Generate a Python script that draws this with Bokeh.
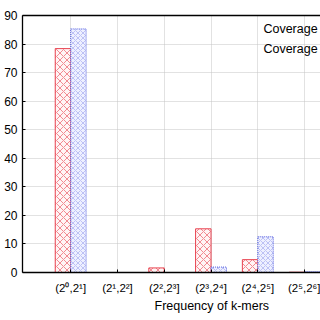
from bokeh.plotting import figure
from bokeh.models import Range1d, LinearAxis, FixedTicker, Title
from bokeh.core.properties import value
from bokeh.embed import file_html
from bokeh.resources import INLINE

categories = ["(2\u2070,2\u00b9]", "(2\u00b9,2\u00b2]", "(2\u00b2,2\u00b3]",
              "(2\u00b3,2\u2074]", "(2\u2074,2\u2075]", "(2\u2075,2\u2076]"]
series_a = [78.4, 0.0, 1.6, 15.3, 4.5, 0.1]
series_b = [85.3, 0.0, 0.0, 1.9, 12.5, 0.3]
legend_labels = ["Coverage", "Coverage"]

xs = list(range(len(categories)))
FONT = "Liberation Sans"

p = figure(width=320, height=320, output_backend="svg", toolbar_location=None,
           x_range=Range1d(-1.03, 5.34), y_range=Range1d(0, 90),
           min_border_left=22, min_border_right=0, min_border_top=15, min_border_bottom=48)
p.outline_line_color = None
p.background_fill_color = "white"

# bars
p.vbar(x=[x - 0.165 for x in xs], top=series_a, width=0.33,
       fill_color="#fff4f5", line_color="#e8424f", line_width=1,
       hatch_pattern="diagonal_cross", hatch_color="#e8424f", hatch_scale=7,
       hatch_weight=0.8, hatch_alpha=0.75)
p.vbar(x=[x + 0.165 for x in xs], top=series_b, width=0.33,
       fill_color="#eef0ff", line_color="#5560e0", line_width=1, line_dash="1 1",
       hatch_pattern="diagonal_cross", hatch_color="#5560e0", hatch_scale=5,
       hatch_weight=0.6, hatch_alpha=0.55)

# axes
p.xaxis.ticker = FixedTicker(ticks=xs)
p.xaxis.major_label_overrides = {i: c for i, c in enumerate(categories)}
p.yaxis.ticker = FixedTicker(ticks=list(range(0, 91, 10)))
for ax in (p.xaxis[0], p.yaxis[0]):
    ax.axis_line_color = "black"
    ax.axis_line_width = 1.3
    ax.major_tick_in = 3
    ax.major_tick_out = 0
    ax.minor_tick_line_color = None
    ax.major_label_text_font = FONT
    ax.major_label_text_color = "black"
p.yaxis.major_label_text_font_size = "12px"
p.xaxis.major_label_text_font_size = "11.5px"
p.xaxis.major_label_standoff = 9
p.yaxis.major_label_standoff = 5

top_axis = LinearAxis(ticker=FixedTicker(ticks=[]), major_label_text_font_size="0px",
                      axis_line_color="black", axis_line_width=1.3,
                      major_tick_line_color=None, minor_tick_line_color=None)
p.add_layout(top_axis, "above")

p.xgrid.ticker = FixedTicker(ticks=xs)
for g in (p.xgrid[0], p.ygrid[0]):
    g.grid_line_color = "#c4c4c4"
    g.grid_line_dash = "1 1"
    g.grid_line_width = 1

p.text(x=[4.12, 4.12], y=[85.1, 78.4], text=legend_labels,
       text_font=value(FONT), text_font_size="12.5px", text_color="black",
       text_baseline="middle", text_align="left")

p.add_layout(Title(text="Frequency of k-mers", align="left", offset=132,
                   text_font=FONT, text_font_size="12.5px", text_font_style="normal",
                   text_color="black", standoff=0), "below")

open("out.html", "w").write(file_html(p, INLINE))
